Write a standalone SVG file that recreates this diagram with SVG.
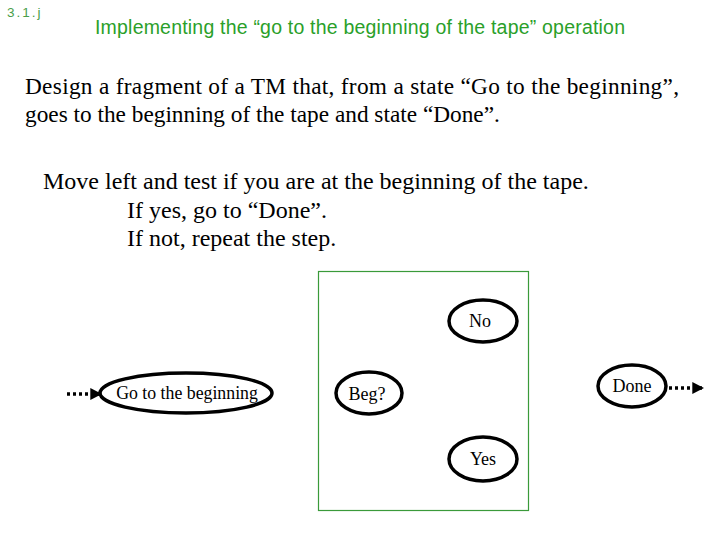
<svg xmlns="http://www.w3.org/2000/svg" width="720" height="540" viewBox="0 0 720 540">
<defs>
<style>
.t{font-family:"Liberation Serif",serif;fill:#000}
.n{fill:none;stroke:#000;stroke-width:3.5}
.c{fill:none;stroke:#000;stroke-width:3.5;stroke-dasharray:3 3}
</style>
<marker id="ah" viewBox="0 0 10 10" refX="9" refY="5" markerWidth="3.4" markerHeight="3.4" orient="auto" markerUnits="strokeWidth">
<path d="M0,0 L10,5 L0,10 z" fill="#000"/>
</marker>
</defs>
<rect width="720" height="540" fill="#fff"/>
<text x="7" y="17" font-family="Liberation Sans,Arial,sans-serif" font-size="13.5" letter-spacing="2" fill="#4a9e4a">3.1.j</text>
<text x="95" y="34" font-family="Liberation Sans,Arial,sans-serif" font-size="19.5" fill="#2aa02a" textLength="530">Implementing the “go to the beginning of the tape” operation</text>
<text class="t" x="25" y="94" font-size="23.3" textLength="654">Design a fragment of a TM that, from a state “Go to the beginning”,</text>
<text class="t" x="25" y="122" font-size="23.3">goes to the beginning of the tape and state “Done”.</text>
<text class="t" x="43" y="189" font-size="24">Move left and test if you are at the beginning of the tape.</text>
<text class="t" x="127" y="218" font-size="24">If yes, go to “Done”.</text>
<text class="t" x="127" y="246" font-size="24">If not, repeat the step.</text>
<rect x="318.5" y="271.5" width="210" height="239" fill="none" stroke="#3a9a3a" stroke-width="1.2"/>
<g id="connectors">
<line class="c" x1="67" y1="394" x2="101" y2="394" marker-end="url(#ah)"/>
<line class="c" x1="669" y1="388" x2="703" y2="388" marker-end="url(#ah)"/>
</g>
<g id="go">
<ellipse class="n" cx="186" cy="393" rx="86" ry="20"/>
<text class="t" x="187" y="399" font-size="17.8" text-anchor="middle">Go to the beginning</text>
</g>
<g id="beg">
<ellipse class="n" cx="369" cy="393" rx="33" ry="21"/>
<text class="t" x="367" y="400" font-size="18" text-anchor="middle">Beg?</text>
</g>
<g id="no">
<ellipse class="n" cx="483" cy="321" rx="34" ry="21"/>
<text class="t" x="480" y="327" font-size="18" text-anchor="middle">No</text>
</g>
<g id="yes">
<ellipse class="n" cx="483" cy="459" rx="34" ry="22"/>
<text class="t" x="483" y="465" font-size="18" text-anchor="middle">Yes</text>
</g>
<g id="done">
<ellipse class="n" cx="632" cy="386" rx="34" ry="21"/>
<text class="t" x="632" y="392" font-size="18" text-anchor="middle">Done</text>
</g>
</svg>
